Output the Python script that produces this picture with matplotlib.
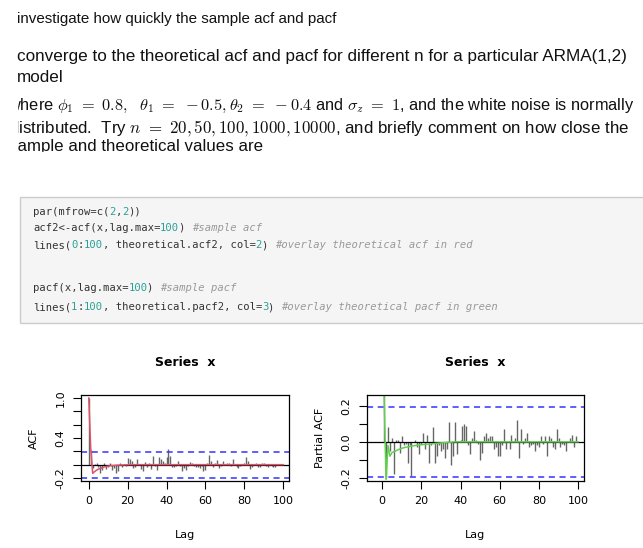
import matplotlib.pyplot as plt
from matplotlib.patches import Rectangle

# sample acf, lags 0..100
acf_lags = list(range(0, 101))
acf_sample = [1.0, 0.22, -0.05, 0.01, 0.02, -0.03, -0.12, -0.08, 0.02, -0.06,
              -0.03, 0.03, -0.08, -0.05, -0.13, -0.10, 0.02, -0.04, 0.01, -0.02,
              0.10, 0.08, 0.05, -0.05, -0.03, 0.09, 0.01, -0.06, -0.10, 0.04,
              -0.03, 0.02, -0.07, 0.13, -0.02, -0.08, 0.12, 0.09, 0.06, 0.02,
              0.11, 0.24, 0.13, -0.03, -0.04, -0.02, 0.05, -0.02, -0.10, -0.05,
              -0.08, -0.02, 0.04, 0.02, -0.02, -0.03, -0.04, -0.05, -0.02, -0.10,
              -0.08, 0.03, 0.15, 0.05, -0.03, 0.02, 0.07, -0.05, -0.02, 0.06,
              0.01, 0.03, 0.02, -0.02, 0.09, 0.01, -0.03, -0.05, -0.02, -0.01,
              0.02, 0.12, 0.05, -0.06, -0.03, -0.01, 0.02, -0.03, -0.04, 0.02,
              0.02, -0.02, -0.03, 0.01, -0.02, -0.03, -0.03, 0.01, 0.0, 0.01, 0.0]
acf_theory = [1.0, 0.25, -0.13, -0.104, -0.083, -0.067, -0.053, -0.043, -0.034, -0.027,
              -0.022, -0.018, -0.014, -0.011, -0.009, -0.007, -0.006, -0.005, -0.004,
              -0.003, -0.002] + [0.0] * 80

# sample pacf, lags 1..100
pacf_lags = list(range(1, 101))
pacf_sample = [0.30, -0.20, 0.08, -0.05, 0.02, -0.18, 0.01, 0.01, -0.06, 0.03,
               -0.02, -0.01, -0.12, -0.02, -0.19, 0.0, 0.01, -0.03, -0.07, -0.01,
               0.05, -0.04, 0.04, -0.12, -0.02, 0.08, -0.12, -0.08, -0.02, -0.05,
               -0.04, -0.09, -0.04, 0.11, -0.13, -0.08, 0.11, -0.07, 0.0, 0.01,
               0.09, 0.10, 0.09, -0.02, -0.07, 0.02, 0.06, 0.01, -0.01, -0.10,
               -0.06, 0.03, 0.05, 0.02, 0.03, 0.03, -0.04, -0.03, -0.08, -0.08,
               -0.02, 0.07, -0.04, 0.0, -0.04, 0.04, 0.0, 0.02, 0.12, -0.09,
               0.07, -0.01, 0.02, 0.05, -0.03, -0.02, -0.01, -0.05, -0.02, -0.03,
               0.03, -0.01, 0.03, -0.08, 0.03, 0.02, -0.03, -0.04, 0.07, 0.02,
               -0.03, -0.01, -0.02, -0.05, 0.0, 0.02, 0.04, -0.03, 0.03, 0.0]
pacf_theory = [0.27, -0.21, -0.02, -0.08, -0.06, -0.055, -0.05, -0.045, -0.04, -0.036,
               -0.033, -0.03, -0.028, -0.026, -0.024, -0.022, -0.02, -0.018, -0.017,
               -0.016, -0.015, -0.014, -0.013, -0.012, -0.011, -0.010, -0.009, -0.008,
               -0.007, -0.006, -0.005, -0.004, -0.003, -0.002, -0.002, -0.001] + [0.0] * 64
ci = 0.196

W, H = 643, 548
plt.rcParams['mathtext.fontset'] = 'cm'
fig = plt.figure(figsize=(W / 100, H / 100), dpi=100)
bg = fig.add_axes([0, 0, 1, 1])
bg.set_xlim(0, W)
bg.set_ylim(H, 0)
bg.axis('off')

body = dict(family='Liberation Sans', color='#111111', va='center')
bg.text(17, 19, 'investigate how quickly the sample acf and pacf', fontsize=10.9, **body)
bg.text(17, 56, 'converge to the theoretical acf and pacf for different n for a particular ARMA(1,2)',
        fontsize=12.3, **body)
bg.text(17, 77, 'model', fontsize=12.3, **body)
bg.text(8, 106, r'where $\phi_1\ =\ 0.8,\ \ \theta_1\ =\ -0.5, \theta_2\ =\ -0.4$ and $\sigma_z\ =\ 1$, and the white noise is normally',
        fontsize=11.8, **body)
bg.text(9, 128, r'distributed.  Try $n\ =\ 20, 50, 100, 1000, 10000$, and briefly comment on how close the',
        fontsize=12.2, **body)
bg.text(9, 147, 'sample and theoretical values are', fontsize=12.2, **body)
bg.add_patch(Rectangle((0, 152), W, 12, color='white', zorder=5))
bg.add_patch(Rectangle((0, 95), 17, 65, color='white', zorder=5))

# code box
bg.add_patch(Rectangle((20, 197), 640, 126, facecolor='#f5f5f5', edgecolor='#cccccc', lw=1))
mono = dict(family='DejaVu Sans Mono', fontsize=7.6, va='center')
def code(x, y, parts):
    for txt, col, sty in parts:
        bg.text(x, y, txt, color=col, style=sty, **mono)
        x += len(txt) * 6.36
num, com, blk = '#2aa198', '#999999', '#333333'
code(33, 212, [('par(mfrow=c(', blk, 'normal'), ('2', num, 'normal'), (',', blk, 'normal'),
               ('2', num, 'normal'), ('))', blk, 'normal')])
code(33, 228, [('acf2<-acf(x,lag.max=', blk, 'normal'), ('100', num, 'normal'), (') ', blk, 'normal'),
               ('#sample acf', com, 'italic')])
code(33, 245, [('lines(', blk, 'normal'), ('0', num, 'normal'), (':', blk, 'normal'), ('100', num, 'normal'),
               (', theoretical.acf2, col=', blk, 'normal'), ('2', num, 'normal'), (') ', blk, 'normal'),
               ('#overlay theoretical acf in red', com, 'italic')])
code(33, 288, [('pacf(x,lag.max=', blk, 'normal'), ('100', num, 'normal'), (') ', blk, 'normal'),
               ('#sample pacf', com, 'italic')])
code(33, 307, [('lines(', blk, 'normal'), ('1', num, 'normal'), (':', blk, 'normal'), ('100', num, 'normal'),
               (', theoretical.pacf2, col=', blk, 'normal'), ('3', num, 'normal'), (') ', blk, 'normal'),
               ('#overlay theoretical pacf in green', com, 'italic')])

def rplot(rect, lags, vals, tlags, tvals, tcol, ylim, xlim, yticks, ylabels, ylab):
    x0, y0, x1, y1 = rect
    ax = fig.add_axes([x0 / W, 1 - y1 / H, (x1 - x0) / W, (y1 - y0) / H])
    ax.vlines(lags, 0, vals, color='#666666', lw=1.0)
    ax.axhline(0, color='black', lw=0.9)
    ax.axhline(ci, color='#3333ff', ls=(0, (4, 3)), lw=1.1)
    ax.axhline(-ci, color='#3333ff', ls=(0, (4, 3)), lw=1.1)
    ax.plot(tlags, tvals, color=tcol, lw=1.1)
    ax.set_xlim(*xlim)
    ax.set_ylim(*ylim)
    ax.set_xticks([0, 20, 40, 60, 80, 100])
    ax.set_yticks(yticks)
    ax.set_yticklabels(ylabels, rotation=90, va='center')
    ax.tick_params(labelsize=8, length=6, width=0.8, pad=5)
    for s in ax.spines.values():
        s.set_linewidth(0.9)
    ax.set_title('Series  x', fontsize=9, fontweight='bold', pad=21)
    ax.set_xlabel('Lag', fontsize=8, labelpad=17)
    ax.set_ylabel(ylab, fontsize=8, labelpad=12)
    return ax

rplot((81, 395, 289, 481), acf_lags, acf_sample, acf_lags, acf_theory, '#df536b',
      (-0.245, 1.045), (-4, 103), [-0.2, 0.0, 0.2, 0.4, 0.6, 0.8, 1.0],
      ['-0.2', '', '', '0.4', '', '', '1.0'], 'ACF')
rplot((367, 395, 584, 481), pacf_lags, pacf_sample, pacf_lags, pacf_theory, '#61d04f',
      (-0.218, 0.261), (-7.7, 103), [-0.2, -0.1, 0.0, 0.1, 0.2],
      ['-0.2', '', '0.0', '', '0.2'], 'Partial ACF')

fig.savefig('out.png', dpi=100)
